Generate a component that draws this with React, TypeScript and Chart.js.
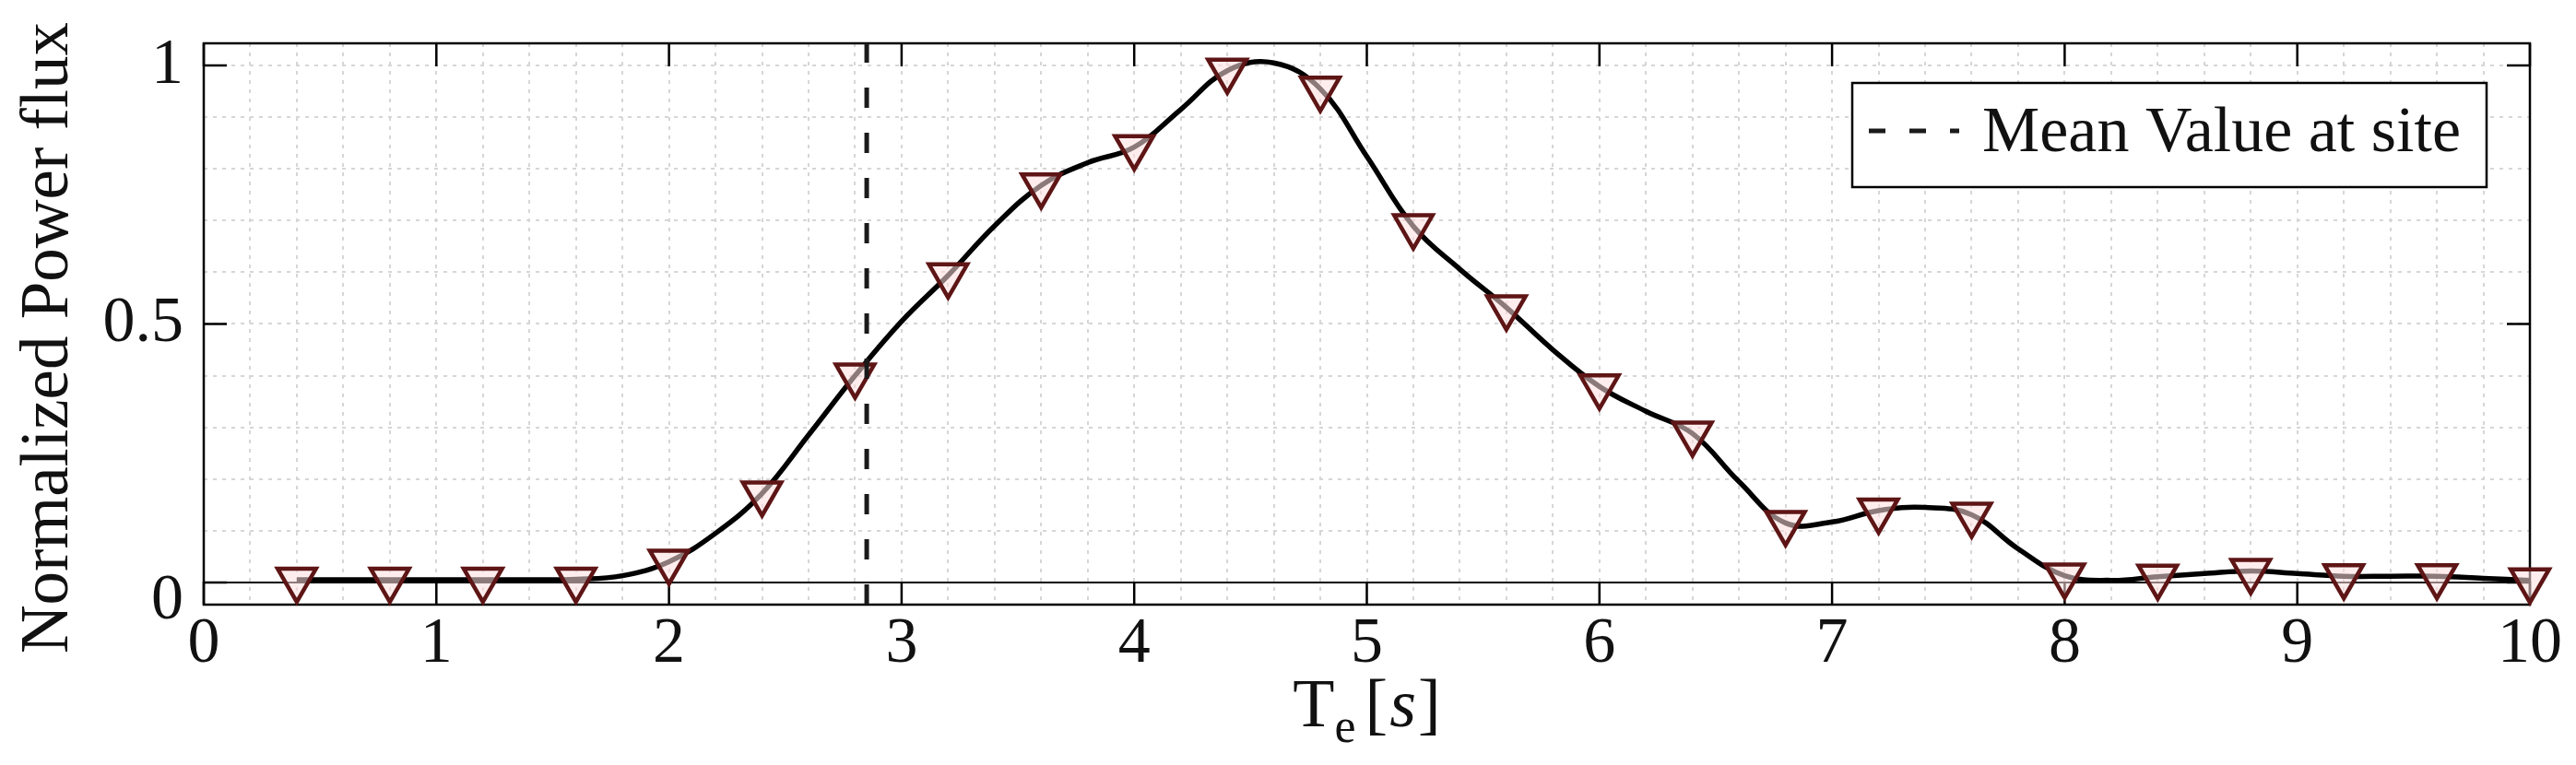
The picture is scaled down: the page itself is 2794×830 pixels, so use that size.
import { useEffect, useRef } from 'react';
import { Chart, registerables } from 'chart.js';

Chart.register(...registerables);

// ---- data ----
const curveT = [0.4, 0.6, 0.8, 1.0, 1.2, 1.4, 1.6, 1.8, 2.0, 2.2, 2.4, 2.6, 2.8, 3.0, 3.2, 3.4, 3.6, 3.8, 4.0, 4.2, 4.4, 4.6, 4.8, 5.0, 5.2, 5.4, 5.6, 5.8, 6.0, 6.2, 6.4, 6.6, 6.8, 7.0, 7.2, 7.4, 7.6, 7.8, 8.0, 8.2, 8.4, 8.6, 8.8, 9.0, 9.2, 9.4, 9.6, 9.8, 10.0];
const curveFlux = [0.005, 0.005, 0.005, 0.005, 0.005, 0.005, 0.006, 0.013, 0.04, 0.095, 0.172, 0.285, 0.4, 0.505, 0.594, 0.69, 0.768, 0.812, 0.842, 0.915, 0.99, 1.005, 0.955, 0.824, 0.689, 0.606, 0.532, 0.45, 0.379, 0.331, 0.288, 0.195, 0.115, 0.117, 0.139, 0.145, 0.131, 0.065, 0.013, 0.004, 0.011, 0.017, 0.022, 0.017, 0.012, 0.012, 0.012, 0.008, 0.004];

const markerT = [0.4, 0.8, 1.2, 1.6, 2.0, 2.4, 2.8, 3.2, 3.6, 4.0, 4.4, 4.8, 5.2, 5.6, 6.0, 6.4, 6.8, 7.2, 7.6, 8.0, 8.4, 8.8, 9.2, 9.6, 10.0];
const markerFlux = [0.005, 0.005, 0.005, 0.005, 0.04, 0.172, 0.4, 0.594, 0.768, 0.842, 0.99, 0.955, 0.689, 0.532, 0.379, 0.288, 0.115, 0.139, 0.131, 0.013, 0.011, 0.022, 0.012, 0.012, 0.004];

const meanValueAtSite = 2.85;
const legendLabel = 'Mean Value at site';
const yTitle = 'Normalized Power flux';

const X_MIN = 0;
const X_MAX = 10;
const Y_MIN = -0.043;
const Y_MAX = 1.043;
const xMajorTicks = [0, 1, 2, 3, 4, 5, 6, 7, 8, 9, 10];
const yMajorTicks = [0, 0.5, 1];

const FONT = "'Liberation Serif', 'Times New Roman', serif";

const decorPlugin = {
  id: 'decor',
  beforeDatasetsDraw(chart: any) {
    const { ctx, chartArea: a, scales } = chart;
    const x = scales.x;
    const y = scales.y;
    ctx.save();
    ctx.strokeStyle = '#000';
    // zero reference line
    const y0 = y.getPixelForValue(0);
    ctx.lineWidth = 2;
    ctx.beginPath();
    ctx.moveTo(a.left, y0);
    ctx.lineTo(a.right, y0);
    ctx.stroke();
    // axes box
    ctx.lineWidth = 2.5;
    ctx.strokeRect(a.left, a.top, a.right - a.left, a.bottom - a.top);
    // inward ticks
    const tl = 25;
    ctx.beginPath();
    for (const v of xMajorTicks) {
      const px = x.getPixelForValue(v);
      ctx.moveTo(px, a.bottom);
      ctx.lineTo(px, a.bottom - tl);
      ctx.moveTo(px, a.top);
      ctx.lineTo(px, a.top + tl);
    }
    for (const v of yMajorTicks) {
      const py = y.getPixelForValue(v);
      ctx.moveTo(a.left, py);
      ctx.lineTo(a.left + tl, py);
      ctx.moveTo(a.right, py);
      ctx.lineTo(a.right - tl, py);
    }
    ctx.stroke();
    ctx.restore();
  },
  afterDraw(chart: any) {
    const { ctx, chartArea: a } = chart;
    ctx.save();
    // ---- legend ----
    const lx = a.right - 735;
    const ly = a.top + 43;
    const lw = 688;
    const lh = 113;
    ctx.fillStyle = '#fff';
    ctx.fillRect(lx, ly, lw, lh);
    ctx.strokeStyle = '#000';
    ctx.lineWidth = 2.5;
    ctx.strokeRect(lx, ly, lw, lh);
    ctx.lineWidth = 5;
    ctx.strokeStyle = '#1a1a1a';
    ctx.setLineDash([18, 26]);
    ctx.beginPath();
    ctx.moveTo(lx + 18, ly + 52);
    ctx.lineTo(lx + 116, ly + 52);
    ctx.stroke();
    ctx.setLineDash([]);
    ctx.fillStyle = '#111';
    ctx.font = `70px ${FONT}`;
    ctx.textAlign = 'left';
    ctx.textBaseline = 'alphabetic';
    ctx.fillText(legendLabel, lx + 141, ly + 74);

    // ---- y title ----
    ctx.save();
    ctx.translate(73, (a.top + a.bottom) / 2 + 15);
    ctx.rotate(-Math.PI / 2);
    ctx.font = `73px ${FONT}`;
    ctx.textAlign = 'center';
    ctx.textBaseline = 'alphabetic';
    ctx.fillText(yTitle, 0, 0);
    ctx.restore();

    // ---- x title: T_e[s] ----
    const big = `74px ${FONT}`;
    const small = `52px ${FONT}`;
    const ital = `italic 74px ${FONT}`;
    const parts = [
      { t: 'T', f: big, dy: 0, gap: 0 },
      { t: 'e', f: small, dy: 17, gap: 10 },
      { t: '[', f: big, dy: 0, gap: 2 },
      { t: 's', f: ital, dy: 0, gap: 2 },
      { t: ']', f: big, dy: 0, gap: 0 },
    ];
    let total = 0;
    const widths: number[] = [];
    for (const p of parts) {
      ctx.font = p.f;
      const w = ctx.measureText(p.t).width;
      widths.push(w);
      total += w + p.gap;
    }
    let cx = (a.left + a.right) / 2 - total / 2;
    const base = a.bottom + 132;
    ctx.textAlign = 'left';
    parts.forEach((p, i) => {
      ctx.font = p.f;
      ctx.fillText(p.t, cx, base + p.dy);
      cx += widths[i] + p.gap;
    });
    ctx.restore();
  },
};

export default function App() {
  const ref = useRef<HTMLCanvasElement | null>(null);

  useEffect(() => {
    if (!ref.current) return;
    const chart = new Chart(ref.current, {
      type: 'scatter',
      data: {
        datasets: [
          {
            label: legendLabel,
            data: [
              { x: meanValueAtSite, y: Y_MIN },
              { x: meanValueAtSite, y: Y_MAX },
            ],
            showLine: true,
            borderColor: '#1a1a1a',
            borderWidth: 5,
            borderDash: [22, 27],
            pointRadius: 0,
          },
          {
            label: 'samples',
            data: markerT.map((t, i) => ({ x: t, y: markerFlux[i] })),
            showLine: false,
            pointStyle: 'triangle',
            rotation: 180,
            pointRadius: 24,
            pointBorderWidth: 4.5,
            pointBorderColor: '#5e1515',
            pointBackgroundColor: 'rgba(255,222,222,0.55)',
            clip: false,
          } as any,
          {
            label: 'curve',
            data: curveT.map((t, i) => ({ x: t, y: curveFlux[i] })),
            showLine: true,
            borderColor: '#000',
            borderWidth: 5.5,
            pointRadius: 0,
            tension: 0.4,
          },
        ],
      },
      options: {
        animation: false,
        responsive: true,
        maintainAspectRatio: false,
        devicePixelRatio: 1,
        layout: { padding: { left: 0, right: 50, top: 47, bottom: 0 } },
        plugins: {
          legend: { display: false },
          tooltip: { enabled: false },
          title: { display: false },
        },
        scales: {
          x: {
            type: 'linear',
            min: X_MIN,
            max: X_MAX,
            afterFit: (s: any) => {
              s.height = 174;
            },
            ticks: {
              stepSize: 0.2,
              maxTicksLimit: 200,
              autoSkip: false,
              maxRotation: 0,
              padding: 2,
              color: '#111',
              font: { family: FONT, size: 70 },
              callback: (v: any) => {
                const n = Number(v);
                return Math.abs(n - Math.round(n)) < 1e-6 ? String(Math.round(n)) : '';
              },
            },
            grid: { color: '#d6d6d6', lineWidth: 2, drawTicks: false },
            border: { display: false, dash: [4, 6] },
          },
          y: {
            type: 'linear',
            min: Y_MIN,
            max: Y_MAX,
            afterFit: (s: any) => {
              s.width = 221;
            },
            ticks: {
              stepSize: 0.1,
              maxTicksLimit: 200,
              autoSkip: false,
              includeBounds: false,
              padding: 22,
              color: '#111',
              font: { family: FONT, size: 70, lineHeight: 0.6 },
              callback: (v: any) => {
                const n = Math.round(Number(v) * 1000) / 1000;
                if (n === 0) return ['', '0'];
                if (n === 0.5) return '0.5';
                if (n === 1) return '1';
                return '';
              },
            },
            grid: { color: '#d6d6d6', lineWidth: 2, drawTicks: false },
            border: { display: false, dash: [4, 6] },
          },
        },
      },
      plugins: [decorPlugin],
    });
    return () => chart.destroy();
  }, []);

  return (
    <div style={{ position: 'fixed', left: 0, top: 0, width: 2794, height: 830, background: '#fff' }}>
      <canvas ref={ref} />
    </div>
  );
}
